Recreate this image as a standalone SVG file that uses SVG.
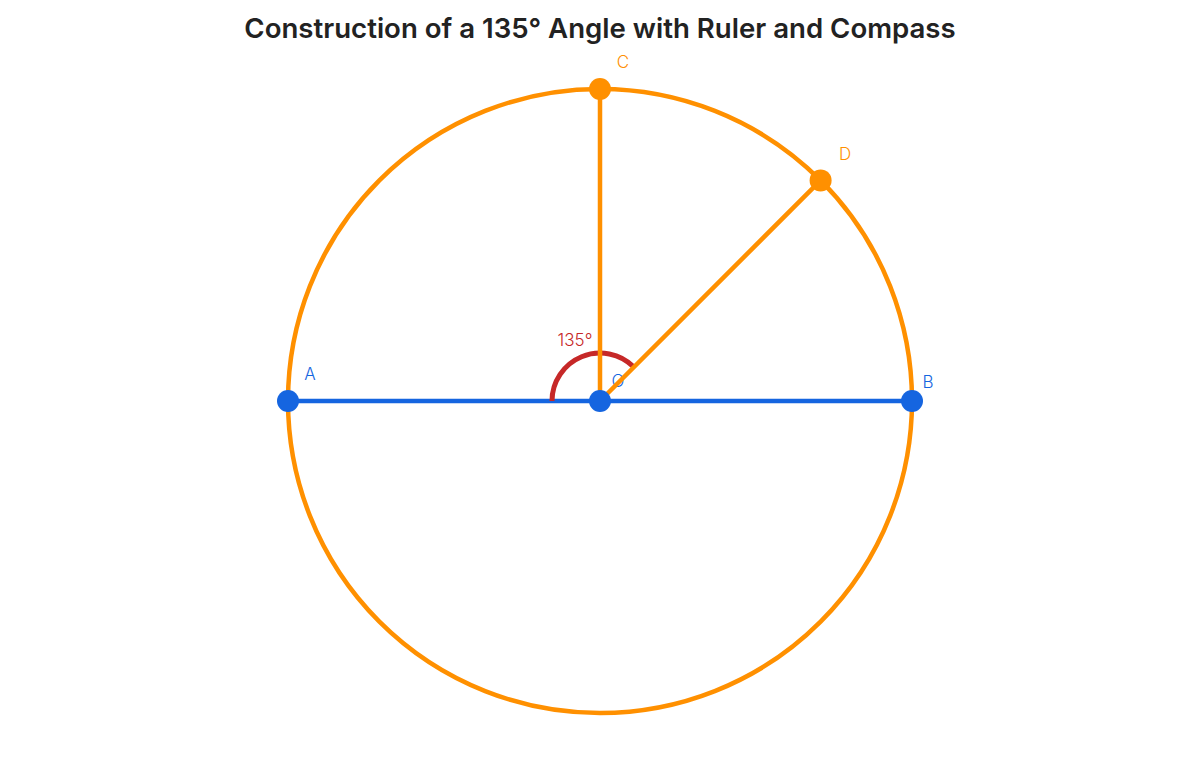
<svg xmlns="http://www.w3.org/2000/svg" width="1200" height="762" viewBox="0 0 1200 762">
<style>
.title{font-family:Inter,"Noto Sans",sans-serif;font-weight:600;font-size:27.6px;fill:#222;}
.lbl{font-family:Inter,"Noto Sans",sans-serif;font-size:17px;font-weight:300;}
.or{stroke:#FF9000;stroke-width:4.5;fill:none;stroke-linecap:round;}
.bl{stroke:#1565E0;stroke-width:4.5;fill:none;}
.po{fill:#FF9000;}
.pb{fill:#1565E0;}
</style>
<rect width="1200" height="762" fill="#fff"/>
<text class="title" x="600" y="38" text-anchor="middle">Construction of a 135° Angle with Ruler and Compass</text>
<g id="labels-under">
<text class="lbl" x="618" y="387" text-anchor="middle" fill="#1565E0">O</text>
</g>
<g id="connectors">
<circle id="circle" class="or" cx="600" cy="401" r="312"/>
<line class="bl" x1="288" y1="401" x2="912" y2="401"/>
<path id="angle-arc" d="M552 401 A48 48 0 0 1 633.9 367.1" fill="none" stroke="#C62828" stroke-width="5"/>
<line class="or" x1="600" y1="401" x2="600" y2="89"/>
<line class="or" x1="600" y1="401" x2="820.6" y2="180.4"/>
</g>
<g id="A"><circle class="pb" cx="288" cy="401" r="11"/><text class="lbl" x="310" y="380" text-anchor="middle" fill="#1565E0">A</text></g>
<g id="B"><circle class="pb" cx="912" cy="401" r="11"/><text class="lbl" x="928" y="388" text-anchor="middle" fill="#1565E0">B</text></g>
<g id="C"><circle class="po" cx="600" cy="89" r="11"/><text class="lbl" x="623" y="68" text-anchor="middle" fill="#FF9000">C</text></g>
<g id="D"><circle class="po" cx="820.6" cy="180.4" r="11"/><text class="lbl" x="845" y="160" text-anchor="middle" fill="#FF9000">D</text></g>
<g id="O"><circle class="pb" cx="600" cy="401" r="11"/></g>
<text class="lbl" x="575" y="346" text-anchor="middle" fill="#C62828">135°</text>
</svg>
